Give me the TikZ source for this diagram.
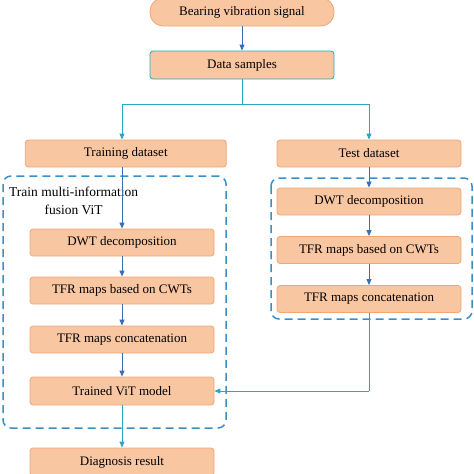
\documentclass[tikz,border=0pt]{standalone}
\usepackage{fontspec}
\setmainfont{Liberation Serif}
\usetikzlibrary{arrows.meta}
\definecolor{peach}{HTML}{F9C6A2}
\definecolor{peachline}{HTML}{F0A676}
\definecolor{tealc}{HTML}{2BA6C2}
\definecolor{darkb}{HTML}{3A6DB5}
\definecolor{dashc}{HTML}{3A90C4}
\tikzset{
  box/.style={draw=peachline, fill=peach, line width=0.8pt, rounded corners=3pt,
    minimum width=184pt, minimum height=27pt, inner sep=0pt,
    font=\fontsize{13}{15}\selectfont},
  darr/.style={draw=darkb, line width=0.9pt, -{Triangle[width=5pt,length=6pt]}},
  tarr/.style={draw=tealc, line width=0.9pt, -{Triangle[width=5pt,length=6pt]}},
  tline/.style={draw=tealc, line width=0.9pt},
  dbox/.style={draw=dashc, line width=1.5pt, dash pattern=on 8pt off 5pt, rounded corners=8pt}
}
\begin{document}
\begin{tikzpicture}[x=1pt,y=-1pt]
\useasboundingbox (0,0) rectangle (474,474);
% dashed groups
\draw[dbox] (3,176) rectangle (226,428);
\draw[dbox] (271,178) rectangle (472,319);
% nodes
\node[box, rounded corners=13pt, minimum height=28pt] (sig) at (242,12) {Bearing vibration signal};
\node[box, draw=tealc, minimum height=28pt] (ds) at (242,65) {Data samples};
\node[box, minimum width=201pt] (train) at (125.8,153.5) {Training dataset};
\node[box] (test) at (369,153.5) {Test dataset};
\node[align=center, anchor=north west, inner sep=0pt, font=\fontsize{13.5}{17.5}\selectfont] (lab) at (9,187) {Train multi-information\\fusion ViT};
\node[box] (dwtL) at (122,242.5) {DWT decomposition};
\node[box] (cwtL) at (122,290.5) {TFR maps based on CWTs};
\node[box] (catL) at (122,339.5) {TFR maps concatenation};
\node[box, minimum height=28pt] (vit) at (122,391) {Trained ViT model};
\node[box, minimum height=28pt] (diag) at (122,462) {Diagnosis result};
\node[box] (dwtR) at (369,201.5) {DWT decomposition};
\node[box] (cwtR) at (369,250) {TFR maps based on CWTs};
\node[box] (catR) at (369,299) {TFR maps concatenation};
\coordinate (split) at (242,104);
\coordinate (turn) at (catR.south |- vit.east);
% connectors
\draw[darr] (sig) -- (ds);
\draw[tline] (ds.south) -- (split);
\draw[tarr] (split) -| (dwtL.north |- train.north);
\draw[tarr] (split) -| (test.north);
\draw[darr] (dwtL.north |- train.south) -- (dwtL.north);
\draw[darr] (dwtL) -- (cwtL);
\draw[darr] (cwtL) -- (catL);
\draw[darr] (catL) -- (vit);
\draw[tarr] (vit) -- (diag);
\draw[darr] (test) -- (dwtR);
\draw[darr] (dwtR) -- (cwtR);
\draw[darr] (cwtR) -- (catR);
\draw[tline] (catR.south) -- (turn);
\draw[tarr] (turn) -- (vit.east);
\end{tikzpicture}
\end{document}
